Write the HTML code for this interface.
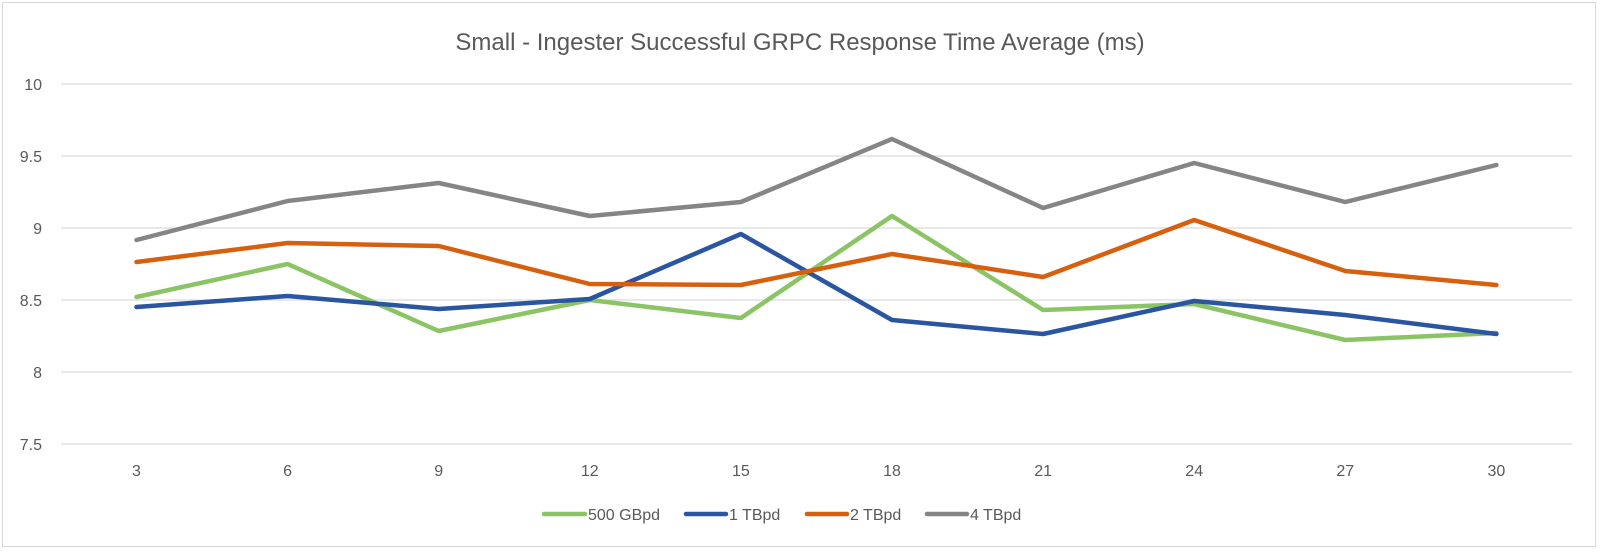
<!DOCTYPE html>
<html><head><meta charset="utf-8"><style>
html,body{margin:0;padding:0;background:#fff;}
svg{display:block;font-family:"Liberation Sans",sans-serif;}
</style></head><body>
<svg width="1600" height="552" xmlns="http://www.w3.org/2000/svg">
<rect x="2.5" y="2.5" width="1593" height="544" fill="#fff" stroke="#d9d9d9" stroke-width="1"/>
<text x="800" y="50" text-anchor="middle" font-size="24" fill="#595959">Small - Ingester Successful GRPC Response Time Average (ms)</text>
<g stroke="#d9d9d9" stroke-width="1.3">
<line x1="61" x2="1572" y1="84" y2="84"/>
<line x1="61" x2="1572" y1="156" y2="156"/>
<line x1="61" x2="1572" y1="228" y2="228"/>
<line x1="61" x2="1572" y1="300" y2="300"/>
<line x1="61" x2="1572" y1="372" y2="372"/>
<line x1="61" x2="1572" y1="444" y2="444"/>
</g>
<g font-size="16" fill="#595959" text-anchor="end">
<text x="42" y="90">10</text><text x="42" y="162">9.5</text><text x="42" y="234">9</text>
<text x="42" y="306">8.5</text><text x="42" y="378">8</text><text x="42" y="450">7.5</text>
</g>
<g font-size="16" fill="#595959" text-anchor="middle">
<text x="136.5" y="476">3</text><text x="287.6" y="476">6</text><text x="438.7" y="476">9</text>
<text x="589.8" y="476">12</text><text x="740.9" y="476">15</text><text x="892" y="476">18</text>
<text x="1043.1" y="476">21</text><text x="1194.2" y="476">24</text><text x="1345.3" y="476">27</text>
<text x="1496.4" y="476">30</text>
</g>
<g fill="none" stroke-width="4.5" stroke-linejoin="round" stroke-linecap="round">
<polyline stroke="#8ac465" points="136.5,297 287.6,264 438.7,331 589.8,300 740.9,318 892,216 1043.1,310 1194.2,304 1345.3,340 1496.4,333"/>
<polyline stroke="#2a55a0" points="136.5,307 287.6,296 438.7,309 589.8,299 740.9,234 892,320 1043.1,334 1194.2,301 1345.3,315 1496.4,334"/>
<polyline stroke="#d7600f" points="136.5,262 287.6,243 438.7,246 589.8,284 740.9,285 892,254 1043.1,277 1194.2,220 1345.3,271 1496.4,285"/>
<polyline stroke="#858585" points="136.5,240 287.6,201 438.7,183 589.8,216 740.9,202 892,139 1043.1,208 1194.2,163 1345.3,202 1496.4,165"/>
</g>
<g stroke-width="4.5" stroke-linecap="round">
<line x1="544" x2="585" y1="514" y2="514" stroke="#8ac465"/>
<line x1="686" x2="726" y1="514" y2="514" stroke="#2a55a0"/>
<line x1="807" x2="847" y1="514" y2="514" stroke="#d7600f"/>
<line x1="927" x2="967" y1="514" y2="514" stroke="#858585"/>
</g>
<g font-size="16" fill="#595959">
<text x="588" y="520">500 GBpd</text>
<text x="729" y="520">1 TBpd</text>
<text x="850" y="520">2 TBpd</text>
<text x="970" y="520">4 TBpd</text>
</g>
</svg>
</body></html>
